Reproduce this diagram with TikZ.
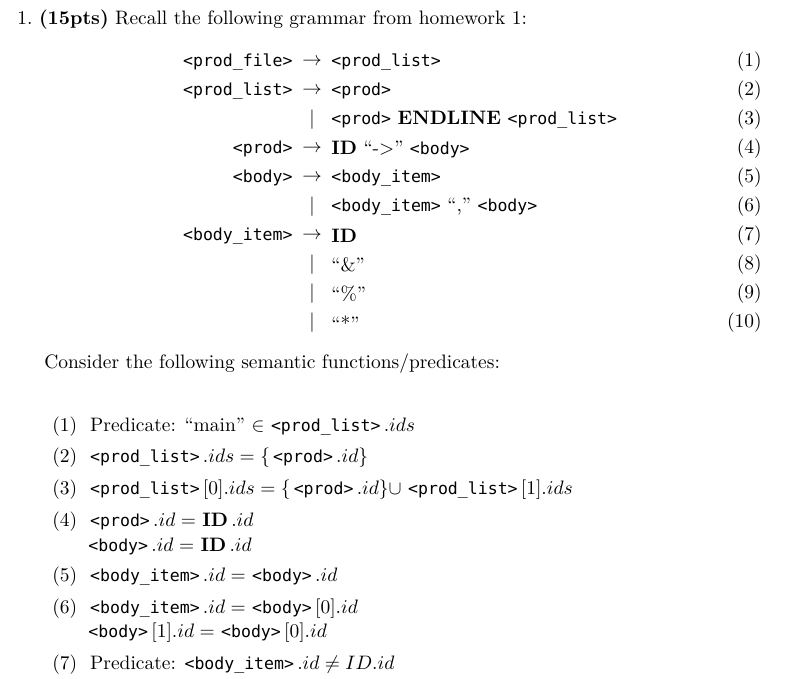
\documentclass[tikz,border=0pt]{standalone}
\usepackage{fontspec}
\usepackage{amssymb}
\newfontfamily\codefont{DejaVu Sans Mono}
\newcommand{\nt}[1]{{\codefont\fontsize{8.5}{10}\selectfont<#1>}}
\begin{document}
\begin{tikzpicture}[x=0.514pt,y=-0.514pt,
    lhs/.style={anchor=east, inner sep=0pt},
    rhs/.style={anchor=west, inner sep=0pt},
    num/.style={anchor=east, inner sep=0pt},
    txt/.style={anchor=west, inner sep=0pt}]
  \useasboundingbox (0,0) rectangle (803,678);
  \node[txt] (head) at (17,20) {1.\ \textbf{(15pts)} Recall the following grammar from homework 1:};
  % grammar
  \node[lhs] (g1) at (293,62) {\nt{prod\_file}};
  \node[lhs] (g2) at (293,91) {\nt{prod\_list}};
  \node[lhs] (g4) at (293,149) {\nt{prod}};
  \node[lhs] (g5) at (293,178) {\nt{body}};
  \node[lhs] (g7) at (293,236) {\nt{body\_item}};
  \foreach \y in {62,91,149,178,236} \node[inner sep=0pt] (a\y) at (312,\y) {$\rightarrow$};
  \foreach \y in {120,207,265,294,323} \node[inner sep=0pt] (b\y) at (312,\y) {$|$};
  \node[rhs] (r1) at (331,62) {\nt{prod\_list}};
  \node[rhs] (r2) at (331,91) {\nt{prod}};
  \node[rhs] (r3) at (331,120) {\nt{prod} \textbf{ENDLINE} \nt{prod\_list}};
  \node[rhs] (r4) at (331,149) {\textbf{ID} ``->'' \nt{body}};
  \node[rhs] (r5) at (331,178) {\nt{body\_item}};
  \node[rhs] (r6) at (331,207) {\nt{body\_item} ``,'' \nt{body}};
  \node[rhs] (r7) at (331,236) {\textbf{ID}};
  \node[rhs] (r8) at (331,265) {``\&''};
  \node[rhs] (r9) at (331,294) {``\%''};
  \node[rhs] (r10) at (331,323) {``*''};
  \foreach \n/\y in {1/62,2/91,3/120,4/149,5/178,6/207,7/236,8/265,9/294,10/323}
    \node[num] (n\n) at (762,\y) {(\n)};
  \node[txt] (cons) at (44,364) {Consider the following semantic functions/predicates:};
  % semantic functions
  \node[txt] (s1) at (52,427) {(1)\ \ Predicate: ``main'' $\in$ \nt{prod\_list}\,.$ids$};
  \node[txt] (s2) at (52,458) {(2)\ \ \nt{prod\_list}\,.$ids = \{$\,\nt{prod}\,.$id\}$};
  \node[txt] (s3) at (52,490) {(3)\ \ \nt{prod\_list}\,[0].$ids = \{$\,\nt{prod}\,.$id\} \cup$ \nt{prod\_list}\,[1].$ids$};
  \node[txt] (s4) at (52,522) {(4)\ \ \nt{prod}\,.$id =$ \textbf{ID}\,.$id$};
  \node[txt] (s4b) at (88,546) {\nt{body}\,.$id =$ \textbf{ID}\,.$id$};
  \node[txt] (s5) at (52,577) {(5)\ \ \nt{body\_item}\,.$id =$ \nt{body}\,.$id$};
  \node[txt] (s6) at (52,609) {(6)\ \ \nt{body\_item}\,.$id =$ \nt{body}\,[0].$id$};
  \node[txt] (s6b) at (88,633) {\nt{body}\,[1].$id =$ \nt{body}\,[0].$id$};
  \node[txt] (s7) at (52,665) {(7)\ \ Predicate: \nt{body\_item}\,.$id \neq ID.id$};
\end{tikzpicture}
\end{document}
